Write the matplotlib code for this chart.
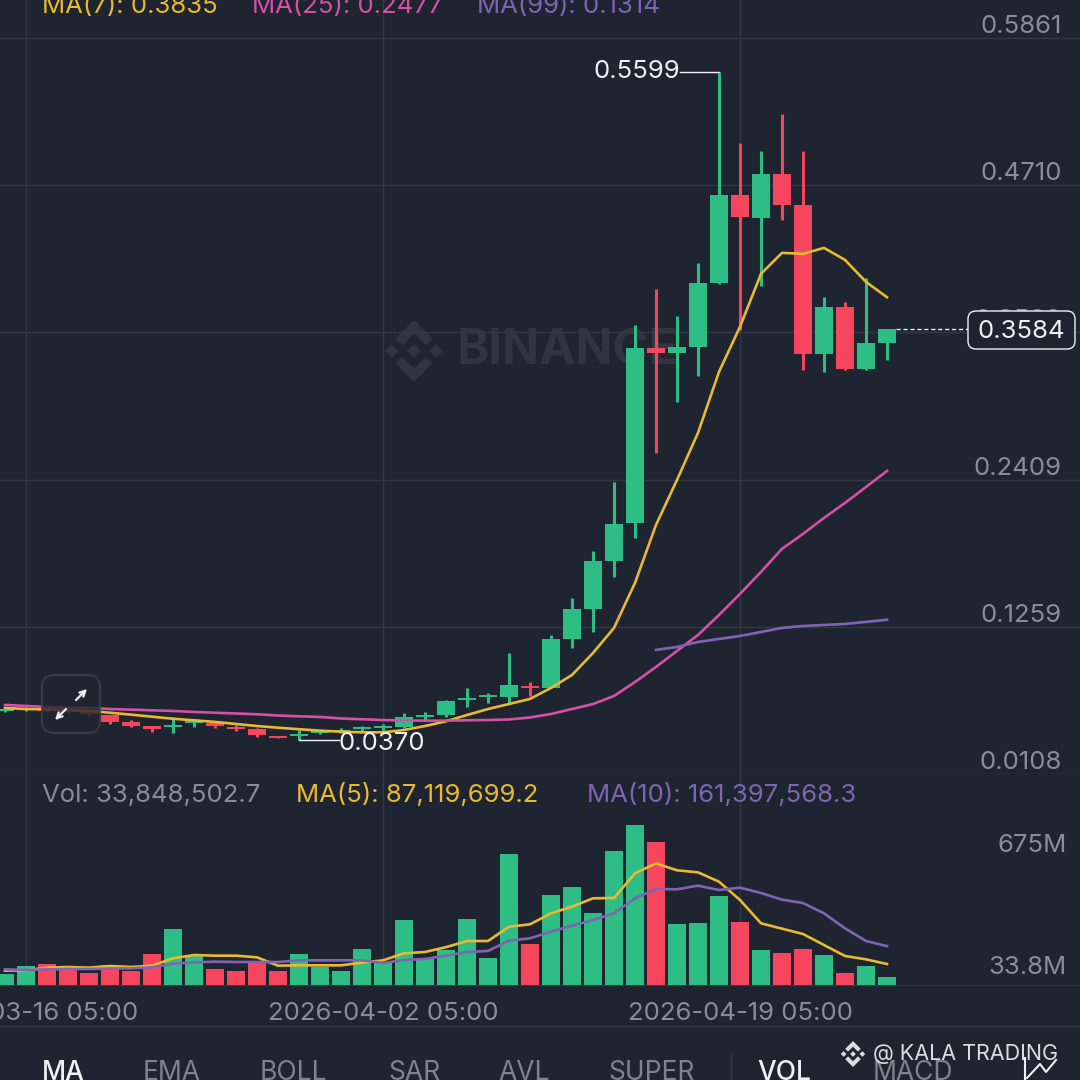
import numpy as np
import matplotlib
matplotlib.use('Agg')
import matplotlib.pyplot as plt
from matplotlib.patches import FancyBboxPatch, Polygon

plt.rcParams['font.family'] = ['Inter', 'DejaVu Sans']

# Candles, one per day
opens = [.0601, .0608, .0624, .0616, .0608, .0569, .0517, .0483, .0473, .0504, .0509,
         .0478, .0462, .0405, .0403, .0426, .0439, .0458, .0465, .0473, .0556, .0567,
         .0687, .0708, .0712, .0798, .0783, .1161, .1396, .1776, .2067, .3437, .3398,
         .3447, .3948, .4636, .4458, .4800, .4558, .3390, .3755, .3277, .3476]
closes = [.0608, .0624, .0601, .0593, .0577, .0517, .0483, .0462, .0489, .0517, .0483,
          .0458, .0411, .0390, .0415, .0439, .0452, .0470, .0483, .0556, .0572, .0679,
          .0702, .0723, .0804, .0783, .1161, .1396, .1776, .2063, .3437, .3398, .3447,
          .3948, .4636, .4461, .4800, .4558, .3390, .3755, .3277, .3476, .3584]
highs = [.0616, .0632, .0632, .0624, .0616, .0569, .0530, .0483, .0554, .0530, .0522,
         .0491, .0470, .0405, .0452, .0452, .0468, .0483, .0499, .0585, .0593, .0687,
         .0781, .0741, .1057, .0830, .1195, .1482, .1852, .2394, .3619, .3898, .3692,
         .4102, .5599, .5040, .4980, .5269, .4980, .3836, .3797, .3984, .3584]
lows = [.0593, .0601, .0593, .0585, .0562, .0499, .0476, .0436, .0431, .0478, .0468,
        .0447, .0400, .0390, .0370, .0418, .0429, .0447, .0447, .0468, .0530, .0556,
        .0632, .0661, .0666, .0718, .0783, .1091, .1221, .1651, .1954, .2616, .3019,
        .3223, .3940, .3580, .3919, .4440, .3267, .3254, .3267, .3267, .3345]

ma7 = [.0624, .0616, .0614, .0608, .0601, .0587, .0572, .0556, .0540, .0528, .0515,
       .0499, .0483, .0470, .0458, .0447, .0439, .0434, .0434, .0452, .0483, .0520,
       .0569, .0616, .0655, .0695, .0781, .0882, .1054, .1250, .1602, .2055, .2407,
       .2775, .3252, .3604, .4018, .4182, .4174, .4221, .4127, .3955, .3835]
ma25 = [.0648, .0640, .0632, .0628, .0624, .0616, .0611, .0606, .0601, .0593, .0587,
        .0581, .0575, .0565, .0559, .0554, .0542, .0536, .0530, .0526, .0525, .0525,
        .0528, .0530, .0534, .0550, .0577, .0616, .0655, .0718, .0827, .0945, .1070,
        .1195, .1351, .1516, .1688, .1868, .1985, .2110, .2227, .2352, .2477]
ma99 = [.1078, .1101, .1140, .1164, .1187, .1218, .1250, .1265, .1273, .1281, .1297, .1314]
ma99_start = 31

# Volume in millions
volume = [45.7, 80.1, 87.2, 69.3, 48.6, 83, 59.3, 127.4, 231, 120.4, 67.6, 59.3, 92.5,
          59.3, 128.7, 75.9, 59.3, 150.6, 90, 269.8, 106.7, 145.3, 275, 112, 543.7, 170,
          373.5, 405.5, 297.6, 556, 665, 594.7, 254.4, 256, 369.4, 262.7, 144, 131.6,
          148.2, 123.3, 48.6, 78.9, 33.8]
vol_ma5 = [59.5, 60.9, 71.9, 74.7, 71.9, 78.9, 74.7, 80.2, 110.7, 124.5, 121.7, 121.7,
           114.8, 80.2, 81.6, 81.6, 81.6, 92.7, 102.4, 131.4, 137, 157, 182.6, 182.6,
           242, 251.8, 297.4, 325.1, 359.7, 361, 463.4, 504.9, 475.9, 467.6, 428.8,
           352.8, 255.9, 233.8, 211.7, 166, 120.4, 106.5, 87.1]
vol_ma10 = [65, 62.3, 65, 66.4, 66.4, 67.8, 69.2, 73.3, 88.5, 94.1, 96.8, 95.5, 95.5,
            95.5, 102.4, 102.4, 102.4, 102.4, 91.3, 103.8, 107.9, 121.7, 137, 141.1,
            184, 193.7, 221.3, 246.2, 269.8, 297.4, 359.7, 398.4, 397, 412.2, 394.3,
            403.9, 381.8, 354.1, 340.3, 297.4, 235.2, 182.6, 161.4]

price_ticks = [.5861, .4710, .3560, .2409, .1259, .0108]
price_tick_labels = ['0.5861', '0.4710', '0.3560', '0.2409', '0.1259', '0.0108']
date_ticks = [1, 18, 35]
date_labels = ['2026-03-16 05:00', '2026-04-02 05:00', '2026-04-19 05:00']
tabs = ['MA', 'EMA', 'BOLL', 'SAR', 'AVL', 'SUPER', 'VOL', 'MACD']
tab_left = [42, 143, 260, 388, 498, 608, 757, 873]
active_tabs = ['MA', 'VOL']

BG = '#1e2530'
GRID = '#323944'
GREEN = '#2ebd85'
RED = '#f6465d'
YELLOW = '#e9b930'
PINK = '#d64fa8'
PURPLE = '#8064b4'
GREY = '#878e9a'
WHITE = '#eef0f3'
FS = 18.5

x = np.arange(len(opens))
colors = [GREEN if c >= o else RED for o, c in zip(opens, closes)]
xlim = (-5 / 21, 1075 / 21)


def logo(ax, cx, cy, s, color, **kw):
    shapes = [
        [(0, -.22), (.22, 0), (0, .22), (-.22, 0)],
        [(-.72, -.22), (-.5, 0), (-.72, .22), (-.94, 0)],
        [(.72, -.22), (.94, 0), (.72, .22), (.5, 0)],
        [(0, -1), (.6, -.4), (.38, -.18), (0, -.56), (-.38, -.18), (-.6, -.4)],
        [(0, 1), (.6, .4), (.38, .18), (0, .56), (-.38, .18), (-.6, .4)],
    ]
    for pts in shapes:
        ax.add_patch(Polygon([(cx + px * s, cy + py * s) for px, py in pts], color=color, lw=0, **kw))


fig = plt.figure(figsize=(10.8, 10.8), dpi=100, facecolor=BG)

# back layer in pixels, for the watermark and rules
back = fig.add_axes([0, 0, 1, 1], zorder=0)
back.set_xlim(0, 1080)
back.set_ylim(1080, 0)
back.axis('off')
logo(back, 414, 351, 31, '#2f3641')
back.text(457, 351, 'BINANCE', color='#2f3641', fontsize=35, fontweight='bold', va='center', ha='left')
back.plot([0, 1080], [1026, 1026], color=GRID, lw=1)
back.plot([731, 731], [1054, 1080], color=GRID, lw=1)

# price pane
ax = fig.add_axes([0, 1 - 774 / 1080, 1, 774 / 1080], zorder=1)
ax.patch.set_alpha(0)
ax.set_xlim(*xlim)
ax.set_ylim(.0108, .0108 + 774 * .00078174)
ax.vlines(x, lows, highs, colors=colors, lw=2.2, zorder=3)
ax.bar(x, np.maximum(np.abs(np.array(closes) - np.array(opens)), .0016),
       bottom=np.minimum(opens, closes), width=.9, color=colors, zorder=3)
ax.plot(x, ma7, color=YELLOW, lw=1.9, zorder=4)
ax.plot(x, ma25, color=PINK, lw=1.9, zorder=4)
ax.plot(x[ma99_start:], ma99, color=PURPLE, lw=1.9, zorder=4)

ax.set_xticks(date_ticks)
ax.set_yticks(price_ticks)
ax.set_yticklabels(price_tick_labels)
ax.yaxis.tick_right()
ax.tick_params(axis='y', length=0, pad=-13, labelsize=FS, labelcolor=GREY)
ax.tick_params(axis='x', length=0, labelbottom=False)
for lab in ax.get_yticklabels():
    lab.set_ha('right')
    lab.set_va('bottom')
ax.grid(True, color=GRID, lw=1)
ax.set_axisbelow(True)
for sp in ax.spines.values():
    sp.set_visible(False)

# high and low markers
hi = int(np.argmax(highs))
lo = int(np.argmin(lows))
ax.plot([hi - 1.86, hi], [highs[hi], highs[hi]], color=WHITE, lw=1, zorder=5)
ax.text(hi - 1.86, highs[hi], '%.4f' % highs[hi], color=WHITE, fontsize=FS, ha='right', va='center', zorder=5)
ax.plot([lo, lo + 1.9], [lows[lo], lows[lo]], color=WHITE, lw=1, zorder=5)
ax.text(lo + 1.9, lows[lo] - .002, '%.4f' % lows[lo], color=WHITE, fontsize=FS, ha='left', va='center', zorder=5)

# last price
ax.plot([x[-1] + .45, 50.8], [closes[-1], closes[-1]], color=WHITE, lw=1, ls=(0, (3, 2)), zorder=2)

# volume pane
vax = fig.add_axes([0, 1 - 985 / 1080, 1, 211 / 1080], zorder=1)
vax.patch.set_alpha(0)
vax.set_xlim(*xlim)
vax.set_ylim(0, 211 * 4.15)
vax.bar(x, volume, width=.9, color=colors, zorder=3)
vax.plot(x, vol_ma5, color=YELLOW, lw=1.9, zorder=4)
vax.plot(x, vol_ma10, color=PURPLE, lw=1.9, zorder=4)
vax.set_yticks([])
vax.set_xticks(date_ticks)
vax.set_xticklabels(date_labels)
vax.tick_params(axis='x', length=0, pad=12, labelsize=FS, labelcolor=GREY)
vax.grid(True, axis='x', color=GRID, lw=1)
vax.set_axisbelow(True)
for sp in vax.spines.values():
    sp.set_visible(False)
vax.spines['bottom'].set_visible(True)
vax.spines['bottom'].set_color(GRID)

# front layer in pixels, for header texts and app furniture
top = fig.add_axes([0, 0, 1, 1], zorder=3)
top.set_xlim(0, 1080)
top.set_ylim(1080, 0)
top.axis('off')
top.patch.set_alpha(0)

top.text(42, 6, 'MA(7): %.4f' % ma7[-1], color=YELLOW, fontsize=FS, va='center')
top.text(252, 6, 'MA(25): %.4f' % ma25[-1], color=PINK, fontsize=FS, va='center')
top.text(477, 6, 'MA(99): %.4f' % ma99[-1], color=PURPLE, fontsize=FS, va='center')
top.text(42, 795, 'Vol: 33,848,502.7', color=GREY, fontsize=FS, va='center')
top.text(296, 795, 'MA(5): 87,119,699.2', color=YELLOW, fontsize=FS, va='center')
top.text(587, 795, 'MA(10): 161,397,568.3', color=PURPLE, fontsize=FS, va='center')
top.text(1067, 845, '675M', color=GREY, fontsize=FS, va='center', ha='right')
top.text(1067, 968, '33.8M', color=GREY, fontsize=FS, va='center', ha='right')

# last price box
top.add_patch(FancyBboxPatch((968, 311), 107, 38, boxstyle='round,pad=0,rounding_size=8',
                             fc=BG, ec=WHITE, lw=1))
top.text(1021, 331, '%.4f' % closes[-1], color=WHITE, fontsize=FS, ha='center', va='center')

# expand button
top.add_patch(FancyBboxPatch((42, 675), 58, 58, boxstyle='round,pad=0,rounding_size=12',
                             fc=BG, ec='#3a414c', lw=1.5, alpha=.8))
top.annotate('', xy=(89, 687), xytext=(74, 702), arrowprops=dict(arrowstyle='->', color=WHITE, lw=1.6))
top.annotate('', xy=(53, 722), xytext=(68, 707), arrowprops=dict(arrowstyle='->', color=WHITE, lw=1.6))

# indicator tabs
for name, left in zip(tabs, tab_left):
    active = name in active_tabs
    top.text(left, 1073, name, color=WHITE if active else '#7d8490', fontsize=19,
             fontweight='medium' if active else 'normal', va='center', ha='left', clip_on=False)

logo(top, 853, 1054, 13, '#d9dce1')
top.text(873, 1054, '@ KALA TRADING', color='#d9dce1', fontsize=15.5, va='center', ha='left')
top.plot([1025, 1025], [1058, 1080], color=WHITE, lw=1.5)
top.plot([1027, 1040, 1046, 1056], [1078, 1064, 1072, 1060], color=WHITE, lw=1.5)

fig.savefig('out.png', dpi=100, facecolor=BG)
